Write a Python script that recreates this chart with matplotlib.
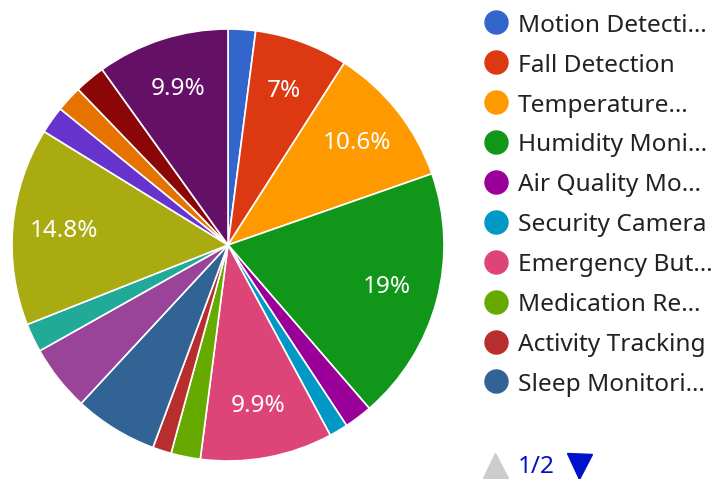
import matplotlib.pyplot as plt
from matplotlib.lines import Line2D

plt.rcParams['font.family'] = ['Noto Sans', 'DejaVu Sans']

# Slice values (percent), clockwise from 12 o'clock
names = ['Motion Detection', 'Fall Detection', 'Temperature Monitoring', 'Humidity Monitoring',
         'Air Quality Monitoring', 'Security Camera', 'Emergency Button', 'Medication Reminder',
         'Activity Tracking', 'Sleep Monitoring', 'Door Sensor', 'Smart Lighting',
         'Voice Assistant', 'Water Leak Detection', 'Smart Lock', 'Heart Rate Monitor',
         'Smart Plug']
values = [2.05, 7.0, 10.6, 19.0, 2.1, 1.4, 9.9, 2.2, 1.4, 6.25, 4.95, 2.15, 14.8, 2.05, 1.95, 2.3, 9.9]
colors = ['#3366cc', '#dc3912', '#ff9900', '#109618', '#990099', '#0099c6', '#dd4477',
          '#66aa00', '#b82e2e', '#316395', '#994499', '#22aa99', '#aaaa11', '#6633cc',
          '#e67300', '#8b0707', '#651067']
# legend shows page 1 of 2, with truncated names
legend_labels = ['Motion Detecti\u2026', 'Fall Detection', 'Temperature\u2026', 'Humidity Moni\u2026',
                 'Air Quality Mo\u2026', 'Security Camera', 'Emergency But\u2026', 'Medication Re\u2026',
                 'Activity Tracking', 'Sleep Monitori\u2026']
page_text = '1/2'

W, H = 713, 479
fig = plt.figure(figsize=(W / 100, H / 100), dpi=100)

cx, cy, r = 228, 245, 216
ax = fig.add_axes([(cx - r) / W, (H - cy - r) / H, 2 * r / W, 2 * r / H])


def fmt(p):
    if p < 7:
        return ''
    s = f'{p:.1f}'
    if s.endswith('.0'):
        s = s[:-2]
    return s + '%'


wedges, texts, autotexts = ax.pie(values, colors=colors, startangle=90, counterclock=False,
                                  autopct=fmt, pctdistance=0.76,
                                  wedgeprops=dict(edgecolor='white', linewidth=1.2),
                                  textprops=dict(color='white', fontsize=17.5))
ax.set_xlim(-1, 1)
ax.set_ylim(-1, 1)
ax.set_aspect('auto')
ax.axis('off')

# legend overlay in pixel coords
lg = fig.add_axes([0, 0, 1, 1])
lg.set_xlim(0, W)
lg.set_ylim(H, 0)
lg.axis('off')
for i, lab in enumerate(legend_labels):
    y = 22.3 + i * 39.9
    lg.add_line(Line2D([495.5], [y], marker='o', markersize=16.6, color=colors[i], linestyle=''))
    lg.text(518, y + 9.4, lab, fontsize=17.6, color='#222222', va='baseline', ha='left')

lg.add_line(Line2D([495], [465], marker='^', markersize=18, color='#cccccc', linestyle=''))
lg.text(518, 473.3, page_text, fontsize=17.6, color='#0011cc', va='baseline', ha='left')
lg.add_line(Line2D([578.5], [466], marker='v', markersize=18, color='#0011cc', linestyle=''))

fig.savefig('out.png', dpi=100)
